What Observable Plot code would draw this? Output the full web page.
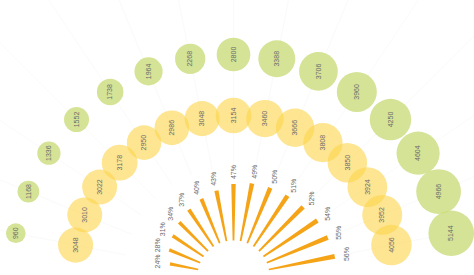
<!DOCTYPE html>
<html><head><meta charset="utf-8">
<script src="https://cdn.jsdelivr.net/npm/d3@7"></script>
<script src="https://cdn.jsdelivr.net/npm/@observablehq/plot@0.6"></script>
<style>body{margin:0;background:#fff}</style>
</head><body><div id="chart"></div>
<script>
// data
const outerValues  = [960, 1168, 1336, 1552, 1738, 1964, 2268, 2800, 3388, 3706, 3960, 4250, 4604, 4966, 5144];
const middleValues = [3048, 3010, 3022, 3178, 2950, 2986, 3048, 3154, 3460, 3666, 3808, 3850, 3924, 3952, 4056];
const shares       = [24, 28, 31, 34, 37, 40, 43, 47, 49, 50, 51, 52, 54, 55, 56];
const shareLabels  = shares.map(d => d + "%");

const W = 474, H = 275;
const n = shares.length;
// angular position (degrees clockwise from north)
const angle = d3.scalePoint().domain(d3.range(n)).range([-90, 90]).padding(1);
const R_OUTER = 222, R_MIDDLE = 161, BAR0 = 36;
const barR = d3.scaleLinear().domain([0, 100]).range([BAR0, BAR0 + 120]);
const rad = a => a * Math.PI / 180;
const px = (r, a) => r * Math.sin(rad(a));
const py = (r, a) => r * Math.cos(rad(a));

const outer = outerValues.map((v, i) => ({v, a: angle(i), x: px(R_OUTER, angle(i)), y: py(R_OUTER, angle(i))}));
const middle = middleValues.map((v, i) => ({v, a: angle(i), x: px(R_MIDDLE, angle(i)), y: py(R_MIDDLE, angle(i))}));
const bars = shares.map((v, i) => {
  const a = angle(i), r1 = barR(v);
  return {v, a, label: shareLabels[i], x: px(BAR0, a), y: py(BAR0, a), len: r1 - BAR0,
          lx: px(r1 + 12, a), ly: py(r1 + 12, a)};
});
const grid = d3.range(n).map(i => ({a: angle(i), x1: px(110, angle(i)), y1: py(110, angle(i)), x2: px(420, angle(i)), y2: py(420, angle(i))}));

const K = 0.024; // angular half-width of a wedge (radians)
const wedge = {
  draw(ctx, l) {
    const a = BAR0 * K, b = (BAR0 + l) * K;
    ctx.moveTo(-a, 0); ctx.lineTo(-b, -l); ctx.lineTo(b, -l); ctx.lineTo(a, 0); ctx.closePath();
  }
};

const font = "'Liberation Sans', Arial, sans-serif";
const chart = Plot.plot({
  width: W, height: H,
  margin: 0,
  style: {background: "#fff", fontFamily: font},
  x: {domain: [-233, W - 233], range: [0, W], axis: null},
  y: {domain: [1, H + 1], range: [H, 0], axis: null},
  r: {type: "sqrt", domain: [0, 5144], range: [0, 22.8]},
  length: {type: "identity"},
  marks: [
    Plot.link(grid, {x1: "x1", y1: "y1", x2: "x2", y2: "y2", stroke: "#fafafa", strokeWidth: 1}),
    Plot.vector(bars, {x: "x", y: "y", length: "len", rotate: "a", anchor: "start", shape: wedge,
      fill: "#f5a418", stroke: "none"}),
    Plot.text(bars, {x: "lx", y: "ly", text: "label", rotate: -90, fontSize: 7, fill: "#6a6a6a"}),
    Plot.dot(outer, {x: "x", y: "y", r: "v", fill: "#cadc7c", fillOpacity: 0.8, stroke: "none"}),
    Plot.text(outer, {x: "x", y: "y", text: d => String(d.v), rotate: -90, fontSize: 7, fill: "#6a6a6a"}),
    Plot.dot(middle, {x: "x", y: "y", r: "v", fill: "#fbd449", fillOpacity: 0.6, stroke: "none"}),
    Plot.text(middle, {x: "x", y: "y", text: d => String(d.v), rotate: -90, fontSize: 7, fill: "#6a6a6a"})
  ]
});
document.getElementById("chart").appendChild(chart);
</script>
</body></html>
